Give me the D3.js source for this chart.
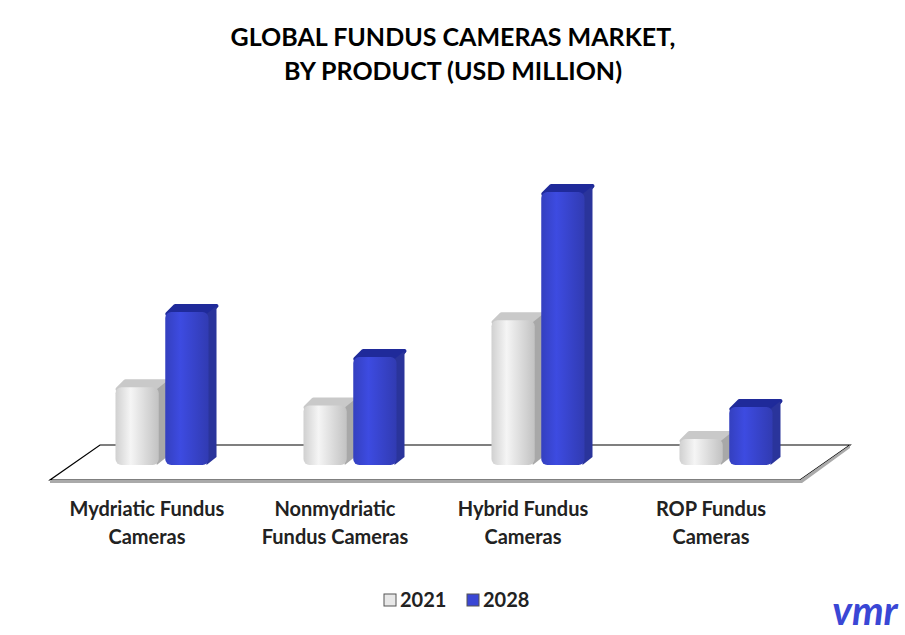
<!DOCTYPE html>
<html><head><meta charset="utf-8">
<script src="https://cdn.jsdelivr.net/npm/d3@7"></script>
<style>body{margin:0;background:#fff}svg{font-family:Lato,"Open Sans",sans-serif}</style>
</head><body>
<svg id="c" width="905" height="635"></svg>
<script>
const categories = ["Mydriatic Fundus|Cameras","Nonmydriatic|Fundus Cameras","Hybrid Fundus|Cameras","ROP Fundus|Cameras"];
const seriesNames = ["2021","2028"];
const values2021 = [145, 112, 267, 51];
const values2028 = [282, 200, 500, 109];
const colors = {"2021":"#e8e8e8","2028":"#3a47d5"};
const tops = {"2021":"#c9c9c9","2028":"#1f2a9a"};

const svg = d3.select("#c");
svg.append("text").attr("x",453).attr("y",46).attr("text-anchor","middle").attr("font-size",25).attr("font-weight",700).text("GLOBAL FUNDUS CAMERAS MARKET,");
svg.append("text").attr("x",453).attr("y",80).attr("text-anchor","middle").attr("font-size",25).attr("font-weight",700).text("BY PRODUCT (USD MILLION)");

const base = 465;
const y = d3.scaleLinear().domain([0,500]).range([base, base-275]);
const x0 = d3.scaleBand().domain(categories).range([115,779]).paddingInner(0.468).paddingOuter(0);
const x1 = d3.scaleBand().domain(seriesNames).range([0,x0.bandwidth()]).padding(0.01);

svg.append("path").attr("d","M100,445 L850,445 L800,480 L50,480 Z").attr("fill","#fff").attr("stroke","#000").attr("stroke-width",1.2);
svg.append("path").attr("d","M50,480 L800,480 L850,445 L850,448 L802,483 L50,483 Z").attr("fill","#aaa");

const data = categories.map((c,i)=>({c, vals:[{s:"2021",v:values2021[i]},{s:"2028",v:values2028[i]}]}));
const defs = svg.append("defs");
seriesNames.forEach(s=>{
  const g = defs.append("linearGradient").attr("id","g"+s);
  const c = d3.color(colors[s]);
  g.append("stop").attr("offset","0%").attr("stop-color",c.darker(0.3));
  g.append("stop").attr("offset","35%").attr("stop-color",c.brighter(0.15));
  g.append("stop").attr("offset","100%").attr("stop-color",c.darker(0.5));
});
data.forEach(d=>{
  d.vals.forEach(b=>{
    const bx = x0(d.c)+x1(b.s), w = x1.bandwidth()-6, ty = y(b.v);
    const g = svg.append("g");
    g.append("path").attr("d",`M${bx+2},${ty+4} L${bx+10},${ty-4} L${bx+w+8},${ty-4} L${bx+w},${ty+4} Z`)
      .attr("fill",tops[b.s]).attr("stroke",tops[b.s]).attr("stroke-linejoin","round").attr("stroke-width",4);
    g.append("path").attr("d",`M${bx+w-2},${ty+4} L${bx+w+8},${ty-4} L${bx+w+8},${base-8} L${bx+w-2},${base}Z`)
      .attr("fill",d3.color(colors[b.s]).darker(0.9));
    g.append("rect").attr("x",bx).attr("y",ty+2).attr("width",w).attr("height",base-ty-2).attr("rx",6)
      .attr("fill",`url(#g${b.s})`);
  });
  const lines = d.c.split("|");
  lines.forEach((l,j)=>svg.append("text").attr("x",x0(d.c)+x0.bandwidth()/2-18).attr("y",516+j*28)
    .attr("text-anchor","middle").attr("font-size",20).attr("font-weight",700).attr("fill","#222").text(l));
});
const lg = svg.append("g");
[["2021",384],["2028",467]].forEach(([s,lx])=>{
  lg.append("rect").attr("x",lx).attr("y",594).attr("width",12).attr("height",12).attr("fill",colors[s]).attr("stroke","#555");
  lg.append("text").attr("x",lx+16).attr("y",607).attr("font-size",20).attr("font-weight",700).attr("fill","#222").text(s);
});
svg.append("text").attr("x",865).attr("y",625).attr("text-anchor","middle").attr("font-size",40).attr("font-weight",700).attr("fill","#3a47d5").attr("font-style","italic").text("vmr");
</script>
</body></html>
